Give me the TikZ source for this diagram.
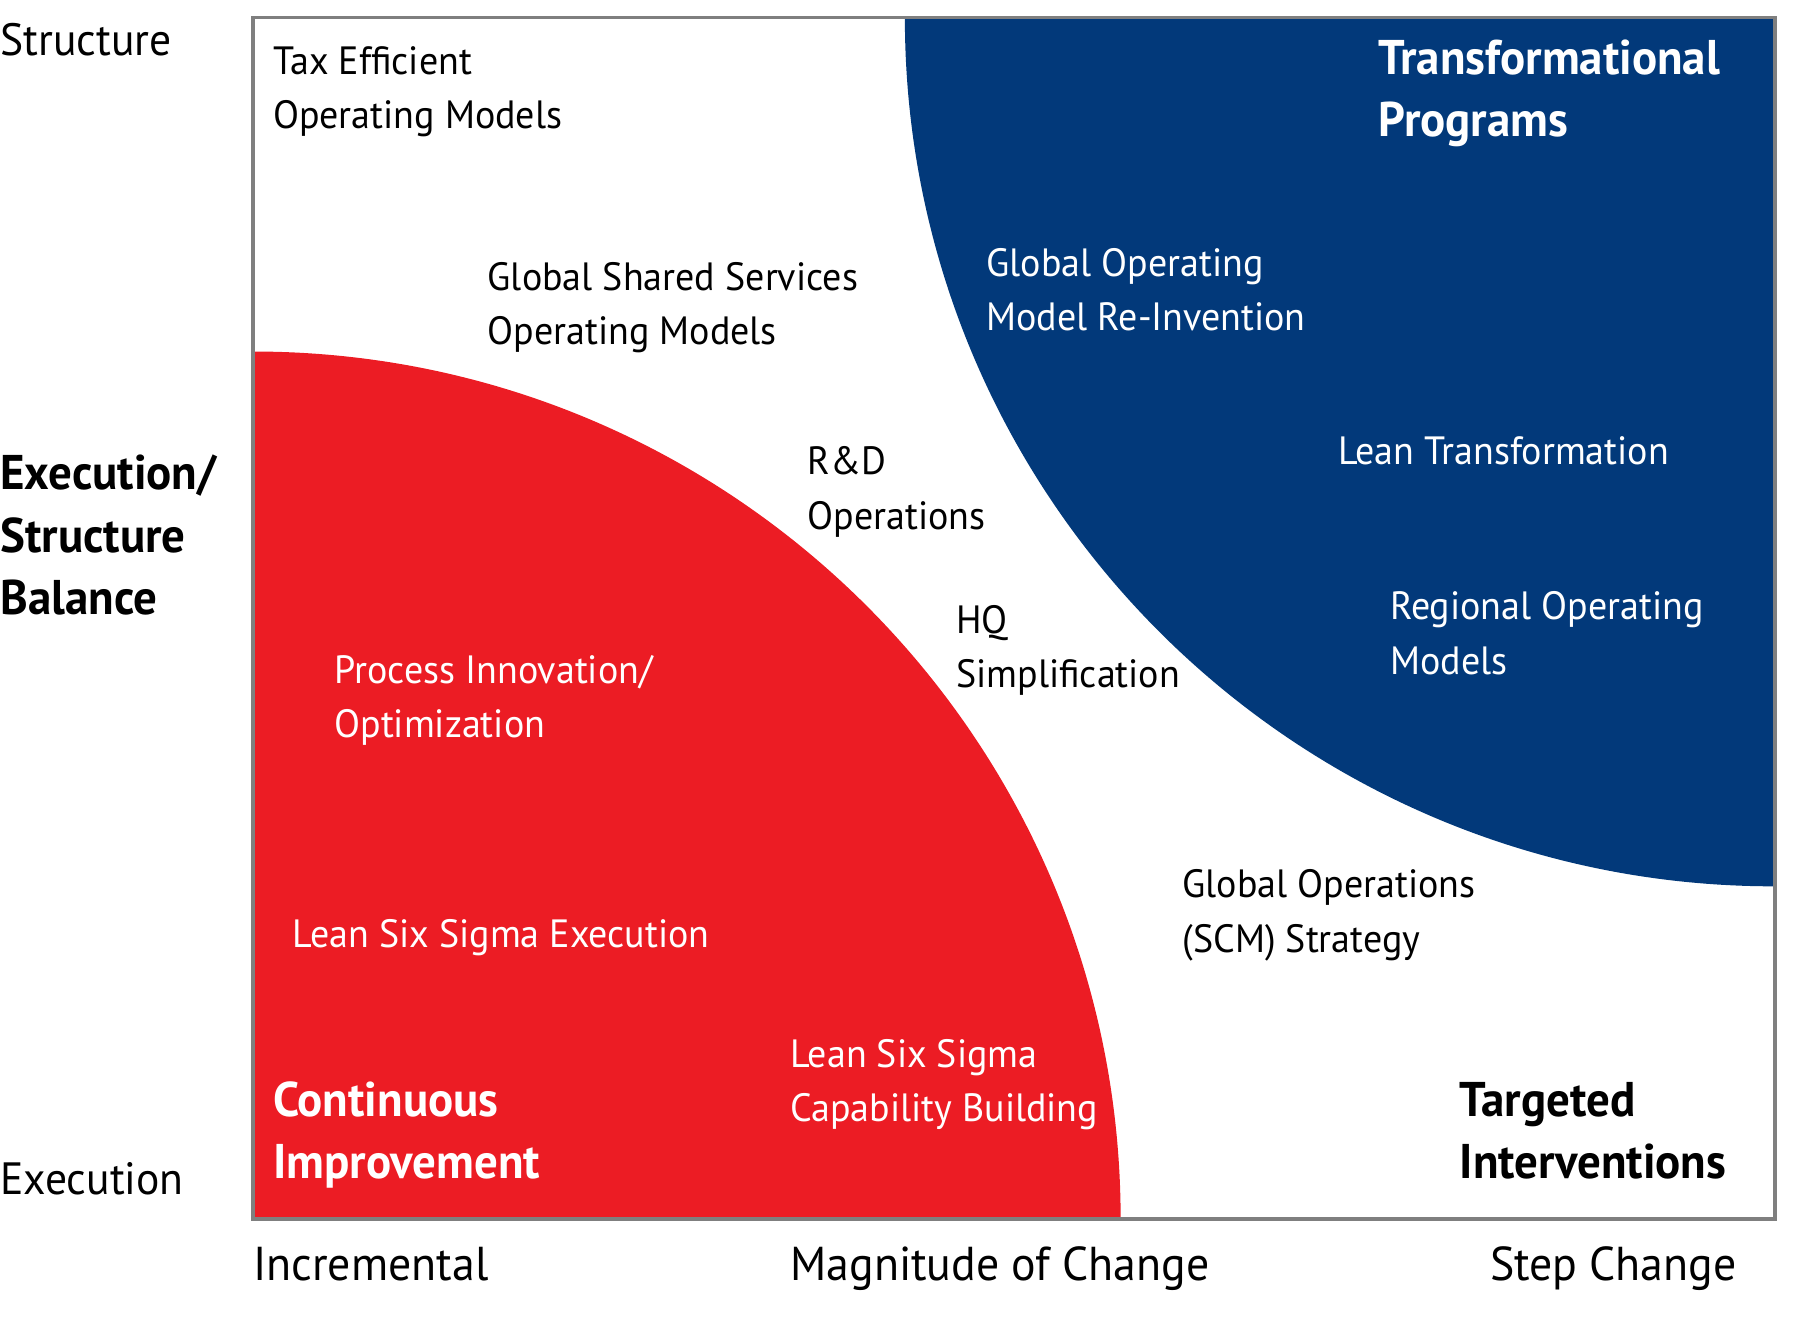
\documentclass[tikz,border=0pt]{standalone}
\usepackage{fontspec}
\setmainfont[FakeStretch=0.963]{PT Sans}
\definecolor{cired}{HTML}{EC1C24}
\definecolor{tpblue}{HTML}{02397A}
\definecolor{framegray}{HTML}{7F7F7F}
\tikzset{
  txt/.style={anchor=base west, inner sep=0pt, align=left, font=\fontsize{17}{23.5}\selectfont},
  wtxt/.style={txt, text=white},
  ttl/.style={anchor=base west, inner sep=0pt, align=left, font=\fontsize{21}{27}\selectfont\bfseries},
  yaxl/.style={anchor=base west, inner sep=0pt, align=left, font=\fontsize{19.5}{25}\selectfont},
  xaxl/.style={anchor=base west, inner sep=0pt, align=left, font=\fontsize{20.5}{25}\selectfont},
}
\begin{document}
\begin{tikzpicture}[x=0.5pt,y=-0.5pt]
\useasboundingbox (0,0) rectangle (1568,1147);
% quadrant shapes
\fill[cired] (218,1051) -- (218,303) arc[start angle=-90, end angle=0, radius=748] -- cycle;
\fill[tpblue] (1530,15) -- (780,15) arc[start angle=180, end angle=90, radius=749] -- cycle;
% frame
\draw[framegray, line width=1.6pt] (218,15) rectangle (1530,1051);
% vertical axis labels
\node[yaxl] (ystruct) at (0,48) {Structure};
\node[ttl] (ybal) at (0,530) {Execution/\\Structure\\Balance};
\node[yaxl] (yexec) at (0,1030) {Execution};
% horizontal axis labels
\node[xaxl] (xinc) at (218,1104) {Incremental};
\node[xaxl] (xmag) at (681,1104) {Magnitude of Change};
\node[xaxl] (xstep) at (1284,1104) {Step Change};
% items (anchored at the baseline of the last line)
\node[txt] (tax) at (235,111) {Tax Efficient\\Operating Models};
\node[txt] (gss) at (420,297) {Global Shared Services\\Operating Models};
\node[ttl, text=white] (trans) at (1188,118) {Transformational\\Programs};
\node[wtxt] (gom) at (850,285) {Global Operating\\Model Re-Invention};
\node[txt] (rnd) at (696,456) {R\&D\\Operations};
\node[wtxt] (leant) at (1153,400) {Lean Transformation};
\node[txt] (hq) at (824,593) {HQ\\Simplification};
\node[wtxt] (reg) at (1198,581) {Regional Operating\\Models};
\node[wtxt] (proc) at (288,636) {Process Innovation/\\Optimization};
\node[txt] (globops) at (1019,821) {Global Operations\\(SCM) Strategy};
\node[wtxt] (lssx) at (252,817) {Lean Six Sigma Execution};
\node[wtxt] (lssc) at (681,967) {Lean Six Sigma\\Capability Building};
\node[ttl, text=white] (ci) at (235,1016) {Continuous\\Improvement};
\node[ttl] (ti) at (1258,1016) {Targeted\\Interventions};
\end{tikzpicture}
\end{document}
